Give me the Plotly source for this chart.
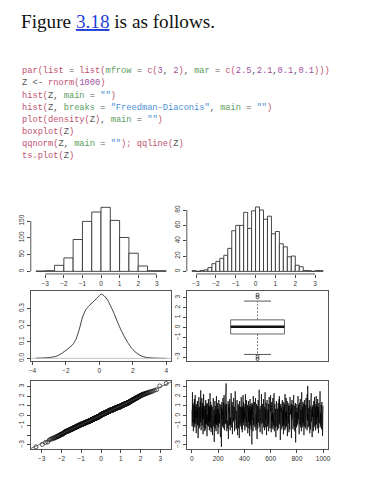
import numpy as np
import plotly.graph_objects as go
from statistics import NormalDist

# ---------------- data ----------------
hist1_breaks = [-3.5, -3.0, -2.5, -2.0, -1.5, -1.0, -0.5, 0.0, 0.5, 1.0, 1.5, 2.0, 2.5, 3.0, 3.5]
hist1_counts = [1, 2, 18, 40, 95, 149, 177, 191, 152, 101, 54, 16, 2, 2]
hist1_xticks = [-3, -2, -1, 0, 1, 2, 3]
hist1_yticks = [0, 50, 100, 150]

hist2_breaks = [-3.2, -3.0, -2.8, -2.6, -2.4, -2.2, -2.0, -1.8, -1.6, -1.4, -1.2, -1.0, -0.8,
                -0.6, -0.4, -0.2, 0.0, 0.2, 0.4, 0.6, 0.8, 1.0, 1.2, 1.4, 1.6, 1.8, 2.0, 2.2,
                2.4, 2.6, 2.8, 3.0, 3.2, 3.4]
hist2_counts = [1, 0, 1, 2, 5, 10, 13, 17, 21, 30, 53, 60, 60, 77, 56, 79, 84, 80, 68, 72,
                49, 52, 36, 32, 19, 20, 8, 6, 1, 1, 0, 1, 1]
hist2_xticks = [-3, -2, -1, 0, 1, 2, 3]
hist2_yticks = [0, 20, 40, 60, 80]

density_x = [-3.8, -3.5, -3.0, -2.7, -2.5, -2.2, -2.0, -1.8, -1.6, -1.4, -1.2, -1.0, -0.8, -0.6,
             -0.4, -0.2, 0.0, 0.1, 0.3, 0.5, 0.7, 0.9, 1.1, 1.3, 1.5, 1.7, 1.9, 2.1, 2.3, 2.5,
             2.8, 3.1, 3.5, 4.0]
density_y = [0.001, 0.002, 0.005, 0.010, 0.016, 0.034, 0.048, 0.064, 0.082, 0.115, 0.175, 0.25,
             0.295, 0.318, 0.337, 0.357, 0.378, 0.387, 0.375, 0.35, 0.31, 0.265, 0.215, 0.17,
             0.13, 0.095, 0.066, 0.043, 0.027, 0.015, 0.006, 0.003, 0.001, 0.0]
dens_xticks = [-4, -2, 0, 2, 4]
dens_yticks = [0.0, 0.1, 0.2, 0.3]
dens_yticklabels = ["0.0", "0.1", "0.2", "0.3"]

box_lower_whisker = -2.74
box_q1 = -0.67
box_median = 0.06
box_q3 = 0.76
box_upper_whisker = 2.66
box_outliers = [-3.2, -2.95, 3.05, 3.3]
sym_ticks = [-3, -2, -1, 0, 1, 2, 3]
sym_ticklabels = ["\u22123", "", "\u22121", "0", "1", "2", "3"]
qq_xticks = [-3, -2, -1, 0, 1, 2, 3]
ts_xticks = [0, 200, 400, 600, 800, 1000]

Z = [
0.6,-1.1,0.3,2.4,-0.2,0.9,-0.7,1.3,-0.1,0.4, -1.6,0.2,0.8,-0.4,1.1,-0.9,0.1,-0.3,1.7,-0.6,
0.5,-1.2,-0.1,0.7,2.1,-0.8,0.3,-1.4,0.2,-0.5, 1.0,-0.3,-1.8,0.4,0.6,-0.2,1.2,-0.7,0.1,-0.9,
-0.4,1.5,0.2,-1.0,-0.6,0.8,-2.3,0.3,1.1,-0.1, 0.7,-0.5,1.9,-0.2,0.4,-1.3,0.9,0.0,-0.8,0.3,
-1.1,0.6,-0.3,1.4,-0.7,0.2,2.6,-0.4,0.5,-1.5, 0.1,-0.9,1.2,-0.6,0.3,1.8,-0.2,-1.0,0.8,-0.4,
1.3,-0.1,-0.7,0.5,-1.9,0.2,0.9,-0.3,2.2,-0.8, -0.6,0.4,-1.2,0.0,1.0,-0.5,0.7,-1.6,0.3,0.6,
0.2,-1.4,0.9,-0.3,1.6,-0.8,0.4,1.1,-0.1,-0.6, -0.9,0.5,-0.2,1.3,-2.1,0.7,0.1,-0.5,0.8,-1.0,
1.2,-0.4,0.3,-0.7,0.6,1.7,-1.1,0.0,-0.3,0.9, -0.5,1.0,-1.5,0.2,-0.1,0.8,-0.6,2.3,0.4,-1.2,
0.3,-0.8,1.4,-0.2,0.7,-1.7,0.5,-0.4,1.1,0.1, -1.3,0.6,-0.1,0.9,-0.5,0.2,-2.0,1.2,-0.7,0.4,
0.8,-0.3,1.8,-0.9,0.1,-1.1,0.5,-0.2,0.6,-2.7, -0.2,1.1,-0.6,0.4,1.5,-0.8,0.0,-1.3,0.7,0.3,
1.0,-0.7,0.2,-1.6,0.9,-0.4,2.0,0.3,-0.9,-0.1, -0.4,0.6,-1.0,1.3,-0.2,0.8,-0.5,0.1,-1.9,0.5,
0.7,-1.2,0.4,-0.3,1.6,-0.7,0.2,1.0,-0.5,-0.1, -0.8,0.3,1.2,-1.4,0.5,-0.2,0.9,-2.2,0.6,0.0,
1.1,-0.6,-1.7,0.2,-3.2,0.8,-0.4,1.4,-0.9,0.3, -0.3,0.9,-1.1,0.5,0.1,-0.7,1.8,-0.2,0.6,-1.3,
0.4,-0.5,1.3,-0.9,2.1,-0.1,-0.6,0.7,-1.5,0.2, -1.0,0.6,-0.2,1.1,-0.8,0.3,1.9,-0.4,0.0,-0.7,
3.3,-0.9,0.5,-0.3,1.2,-1.6,0.2,0.8,-0.5,-1.1, 0.6,-0.2,-1.3,0.9,-0.6,1.5,0.1,-2.4,0.4,-0.1,
-0.7,1.2,0.3,-0.4,0.8,-1.0,-0.1,1.7,-0.8,0.5, 0.2,-1.5,0.7,-0.2,-0.9,0.4,1.1,-0.5,2.3,-0.3,
-0.6,0.8,-1.2,0.1,0.5,-0.3,1.4,-0.8,-1.9,0.6, 1.0,-0.4,0.2,-1.1,0.7,-0.1,-0.6,1.8,0.3,-0.9,
-0.2,1.3,-0.7,0.4,-1.6,0.9,0.0,-0.4,0.6,2.5, 0.3,-1.0,0.8,-0.5,1.1,-0.2,-1.4,0.5,-0.8,0.1,
-1.2,0.4,-0.1,1.6,-0.6,0.2,0.9,-2.0,0.7,-0.3, 0.5,-0.8,1.2,-0.3,0.1,-1.3,0.6,-0.1,1.0,-0.6,
-2.3,0.7,-0.4,1.5,0.2,-0.9,0.4,-0.2,1.1,-0.7, 0.9,-0.1,-1.1,0.3,-0.5,1.9,-0.8,0.6,0.0,-1.4,
-0.4,1.0,0.5,-1.7,0.8,-0.2,0.3,-0.6,1.3,2.1, 0.1,-0.7,1.4,-0.3,-1.0,0.6,-0.5,0.9,-0.1,0.4,
-0.9,0.2,0.7,-1.5,1.2,-0.4,0.0,2.2,-0.6,0.3, 0.6,-1.1,-0.2,0.8,-0.7,1.6,0.1,-0.3,-1.2,0.5,
-0.1,0.9,-0.5,1.1,0.3,-1.8,0.7,-0.4,0.2,-0.8, 1.5,-0.6,0.4,-0.2,-1.3,0.8,-0.9,0.1,1.0,-2.1,
-0.3,0.5,1.7,-0.7,0.2,-1.0,0.6,-0.1,-0.5,1.2, 0.4,-1.4,0.1,-0.6,0.9,-0.2,-2.95,1.3,-0.4,0.7,
-0.8,0.3,1.1,-0.5,0.6,-1.6,0.2,2.0,-0.1,-0.9, 0.5,-0.3,-1.0,0.8,-0.2,1.4,-0.7,0.0,0.9,-1.2,
-1.1,0.7,0.2,-0.4,1.8,-0.8,0.4,-1.5,0.1,0.6, 0.3,-0.9,1.2,-0.1,-0.6,0.5,-2.4,0.9,-0.3,1.0,
-0.5,0.8,-1.3,0.2,1.6,-0.2,0.6,-0.7,1.1,0.0, -0.4,1.3,2.66,-0.9,0.3,-1.1,0.7,-0.2,0.5,-1.7,
0.9,-0.6,0.1,-1.4,0.4,1.0,-0.3,0.7,-0.8,2.2, -0.2,0.5,-1.0,0.8,-0.5,-1.9,1.2,0.2,-0.6,0.3,
1.4,-0.1,0.6,-0.8,0.0,1.7,-1.2,0.4,-0.3,-0.7, -0.6,0.9,-0.2,-1.5,1.1,0.3,-0.9,2.4,0.1,-0.4,
0.2,-1.2,0.7,0.5,-0.3,1.3,-0.7,-0.1,-2.0,0.8, -0.9,0.4,1.6,-0.6,0.2,-1.1,0.9,-0.4,0.6,0.0,
0.7,-0.3,-0.8,1.2,-1.6,0.1,0.5,-0.2,1.9,-1.0, -0.1,1.0,-0.5,0.3,0.8,-1.3,-0.7,0.6,-0.2,2.1,
0.4,-0.8,1.1,-0.2,-1.7,0.7,0.0,-0.5,1.4,-0.9, -1.2,0.6,0.3,-0.6,1.0,-0.1,1.8,-1.4,0.2,-0.4,
0.8,-0.2,-1.0,0.5,-0.7,2.3,-0.3,0.9,-1.6,0.1, -0.5,1.2,0.4,-0.9,0.1,-1.2,0.7,-0.2,0.6,-2.2,
1.0,-0.6,0.2,1.5,-0.4,0.8,-1.1,0.3,-0.8,0.0, -0.3,0.7,-1.5,0.4,0.9,-0.5,0.1,1.3,-0.1,-1.0,
0.6,-1.3,0.2,-0.2,1.7,-0.7,2.0,-0.4,0.5,-0.9, -0.7,0.3,1.0,-2.5,0.6,-0.1,-0.6,1.2,0.4,-0.3,
0.2,-0.9,0.8,0.1,-1.4,1.1,-0.5,0.7,-0.2,1.6, -1.1,0.5,-0.3,0.9,0.0,-0.8,1.4,-1.9,0.3,0.6,
0.9,-0.4,0.2,-1.0,0.7,-0.6,1.2,0.1,-1.5,2.2, -0.2,1.1,-0.7,0.5,-1.3,0.3,-0.1,0.8,1.8,-0.5,
0.4,-1.1,0.6,-0.4,0.1,1.5,-0.9,-2.1,0.7,-0.2, -0.6,0.8,1.3,-0.3,-0.8,0.2,1.0,-0.5,0.0,-1.7,
1.1,-0.2,-0.6,0.9,0.3,-1.4,0.5,1.9,-0.7,0.4, -0.9,0.1,0.7,-1.2,-0.4,0.6,-0.1,1.2,-2.3,0.8,
0.3,-0.5,1.6,-0.2,0.9,-1.0,0.4,-0.6,0.2,1.1, -1.4,0.7,-0.3,0.5,-0.8,2.1,0.0,-1.1,0.6,-0.2,
0.5,-0.7,1.0,-1.6,0.2,0.8,-0.4,-0.1,1.3,-0.9, -2.74,0.4,-0.2,1.2,-0.6,0.3,0.9,-1.2,0.1,0.6,
0.8,-1.0,0.3,-0.5,1.5,-0.1,-0.8,0.6,2.0,-0.3, -0.4,1.1,-1.4,0.2,0.7,-0.6,0.0,-1.9,0.9,0.4,
1.3,-0.3,0.5,-0.9,0.1,1.7,-0.5,0.8,-1.2,-0.1, -0.7,0.6,-0.2,1.0,-1.6,0.3,2.4,-0.4,0.2,-0.8,
0.1,-1.2,0.9,-0.3,0.5,-0.7,1.4,-0.1,-1.0,0.7, -0.5,0.3,1.2,-2.0,0.8,-0.2,-0.6,1.6,0.4,-1.1,
0.6,-0.8,0.0,1.1,-0.4,0.9,-1.3,0.2,-0.1,1.8, -1.0,0.4,-0.6,0.7,-0.2,1.3,0.5,-1.5,2.2,-0.3,
0.2,-0.5,3.05,-0.9,0.6,-1.2,0.3,1.0,-0.7,0.1, -0.3,0.8,-1.1,0.4,1.6,-0.6,-0.1,0.9,-1.8,0.5,
1.0,-0.2,0.6,-1.4,0.3,-0.8,1.2,0.0,-0.5,2.3, -0.6,1.4,-0.3,0.7,-1.0,0.2,-2.2,0.5,0.9,-0.1,
0.4,-0.9,1.1,-0.4,0.8,-1.6,0.1,-0.2,1.5,-0.7, -1.2,0.5,0.2,-0.6,1.9,-0.3,0.7,-1.0,0.0,0.6,
0.9,-0.1,-1.5,0.3,-0.7,1.2,-0.4,2.0,-0.9,0.2, -0.2,0.7,-0.8,1.0,0.4,-1.3,0.6,-0.5,1.7,-0.1,
0.5,-1.1,0.3,-0.3,-1.8,0.9,-0.6,1.3,0.1,-0.4, -0.8,1.2,-0.1,0.6,-0.5,0.2,2.5,-1.2,0.4,-0.7,
0.3,-0.6,0.8,-1.0,1.1,-0.2,-0.4,0.7,-1.4,0.0, 1.4,-0.9,0.5,-0.1,0.2,-2.1,0.9,-0.3,0.6,1.0,
]
T = list(range(1, len(Z) + 1))

# ---------------- page geometry (pixels; page has an 8px body margin) ----------------
PAGE_W, PAGE_H, OFF = 386, 491, 8
W, H = PAGE_W - OFF, PAGE_H - OFF
def px_x(p): return (p - OFF) / W
def px_y(p): return 1 - (p - OFF) / H

col1 = [px_x(29), px_x(171)]
col2 = [px_x(186.7), px_x(329.7)]
row1 = [px_y(274.5), px_y(204.8)]
row2 = [px_y(361.7), px_y(292)]
row3 = [px_y(450.3), px_y(381.7)]

AX = "#444"
tickfont = dict(family="Liberation Sans, Arial, sans-serif", size=6.5, color="#333")

def axis(domain, rng, tickvals, ticktext=None, anchor=None, boxed=True, vertical=False):
    d = dict(domain=domain, range=rng, tickvals=tickvals, showgrid=False, zeroline=False,
             ticks="outside", ticklen=3, tickwidth=0.8, tickcolor=AX, tickfont=tickfont,
             showline=boxed, mirror=boxed, linecolor="#555", linewidth=0.9, fixedrange=True,
             anchor=anchor)
    if ticktext is not None:
        d["ticktext"] = ticktext
    if vertical:
        d["tickangle"] = -90
    return d

fig = go.Figure()

# ---- histogram 1
c1 = [(hist1_breaks[i] + hist1_breaks[i + 1]) / 2 for i in range(len(hist1_counts))]
w1 = [hist1_breaks[i + 1] - hist1_breaks[i] for i in range(len(hist1_counts))]
fig.add_trace(go.Bar(x=c1, y=hist1_counts, width=w1, marker=dict(color="white", line=dict(color="#333", width=0.9)),
                     xaxis="x", yaxis="y"))
# ---- histogram 2
c2 = [(hist2_breaks[i] + hist2_breaks[i + 1]) / 2 for i in range(len(hist2_counts))]
w2 = [hist2_breaks[i + 1] - hist2_breaks[i] for i in range(len(hist2_counts))]
fig.add_trace(go.Bar(x=c2, y=hist2_counts, width=w2, marker=dict(color="white", line=dict(color="#333", width=0.9)),
                     xaxis="x2", yaxis="y2"))
# ---- density
fig.add_trace(go.Scatter(x=density_x, y=density_y, mode="lines", line=dict(color="#222", width=0.9, shape="spline", smoothing=0.6),
                         xaxis="x3", yaxis="y3"))
# ---- boxplot
bc, bhw = 1.0, 0.19
fig.add_trace(go.Scatter(x=[bc, bc], y=[box_q3, box_upper_whisker], mode="lines",
                         line=dict(color="#555", width=0.8, dash="2px,1.5px"), xaxis="x4", yaxis="y4"))
fig.add_trace(go.Scatter(x=[bc, bc], y=[box_q1, box_lower_whisker], mode="lines",
                         line=dict(color="#555", width=0.8, dash="2px,1.5px"), xaxis="x4", yaxis="y4"))
for wv in (box_upper_whisker, box_lower_whisker):
    fig.add_trace(go.Scatter(x=[bc - bhw / 2, bc + bhw / 2], y=[wv, wv], mode="lines",
                             line=dict(color="#444", width=0.9), xaxis="x4", yaxis="y4"))
fig.add_trace(go.Scatter(x=[bc - bhw, bc + bhw, bc + bhw, bc - bhw, bc - bhw],
                         y=[box_q1, box_q1, box_q3, box_q3, box_q1], mode="lines",
                         fill="toself", fillcolor="white", line=dict(color="#555", width=0.9),
                         xaxis="x4", yaxis="y4"))
fig.add_trace(go.Scatter(x=[bc - bhw, bc + bhw], y=[box_median, box_median], mode="lines",
                         line=dict(color="#111", width=2.4), xaxis="x4", yaxis="y4"))
fig.add_trace(go.Scatter(x=[bc] * len(box_outliers), y=box_outliers, mode="markers",
                         marker=dict(symbol="circle-open", size=3, color="#222", line=dict(width=0.8)),
                         xaxis="x4", yaxis="y4"))
# ---- QQ plot
nd = NormalDist()
n = len(Z)
theo = [nd.inv_cdf((i + 0.5) / n) for i in range(n)]
samp = sorted(Z)
fig.add_trace(go.Scatter(x=theo, y=samp, mode="markers",
                         marker=dict(symbol="circle-open", size=4, color="#111", line=dict(width=0.7)),
                         xaxis="x5", yaxis="y5"))
yq1, yq3 = np.quantile(Z, [0.25, 0.75])
xq1, xq3 = nd.inv_cdf(0.25), nd.inv_cdf(0.75)
slope = (yq3 - yq1) / (xq3 - xq1)
icpt = yq1 - slope * xq1
qq_xr = [-3.55, 3.55]
fig.add_trace(go.Scatter(x=qq_xr, y=[icpt + slope * v for v in qq_xr], mode="lines",
                         line=dict(color="#444", width=0.8), xaxis="x5", yaxis="y5"))
# ---- time series
fig.add_trace(go.Scatter(x=T, y=Z, mode="lines", line=dict(color="#000", width=0.7),
                         xaxis="x6", yaxis="y6"))

fig.update_layout(
    width=W, height=H, margin=dict(l=0, r=0, t=0, b=0),
    paper_bgcolor="white", plot_bgcolor="white", showlegend=False,
    xaxis=axis(col1, [-3.78, 3.78], hist1_xticks, anchor="y", boxed=False),
    yaxis=axis(row1, [-7.7, 199.7], hist1_yticks, anchor="x", boxed=False, vertical=True),
    xaxis2=axis(col2, [-3.464, 3.664], hist2_xticks, anchor="y2", boxed=False),
    yaxis2=axis(row1, [-3.36, 87.36], hist2_yticks, anchor="x2", boxed=False, vertical=True),
    xaxis3=axis(col1, [-4.1, 4.3], dens_xticks, anchor="y3"),
    yaxis3=axis(row2, [-0.0155, 0.403], dens_yticks, dens_yticklabels, anchor="x3", vertical=True),
    xaxis4=axis(col2, [0.5, 1.5], [], anchor="y4"),
    yaxis4=axis(row2, [-3.40, 3.64], sym_ticks, sym_ticklabels, anchor="x4", vertical=True),
    xaxis5=axis(col1, qq_xr, qq_xticks, anchor="y5"),
    yaxis5=axis(row3, [-3.46, 3.56], sym_ticks, sym_ticklabels, anchor="x5", vertical=True),
    xaxis6=axis(col2, [-39, 1040], ts_xticks, anchor="y6"),
    yaxis6=axis(row3, [-3.46, 3.56], sym_ticks, sym_ticklabels, anchor="x6", vertical=True),
)
fig.layout.xaxis4.ticks = ""
fig.layout.xaxis4.showticklabels = False

# R-style axis lines for the two histograms (spanning first..last tick)
ln = dict(color="#444", width=0.9)
shapes = [
    dict(type="line", xref="x", yref="y domain", x0=hist1_xticks[0], x1=hist1_xticks[-1], y0=0, y1=0, line=ln),
    dict(type="line", xref="x domain", yref="y", x0=0, x1=0, y0=hist1_yticks[0], y1=hist1_yticks[-1], line=ln),
    dict(type="line", xref="x2", yref="y2 domain", x0=hist2_xticks[0], x1=hist2_xticks[-1], y0=0, y1=0, line=ln),
    dict(type="line", xref="x2 domain", yref="y2", x0=0, x1=0, y0=hist2_yticks[0], y1=hist2_yticks[-1], line=ln),
    dict(type="line", xref="x3 domain", yref="y3", x0=0, x1=1, y0=0, y1=0, line=dict(color="#bbb", width=0.9)),
]
fig.update_layout(shapes=shapes)

# ---------------- page text ----------------
FN, ARG, NUM, STR, PL = "#c0506e", "#5c9e5c", "#a050a0", "#4a8fd8", "#555"
def s(t, c):
    return f"<span style='color:{c}'>{t}</span>"

code_lines = [
    s("par(", FN) + s("list", FN) + s(" = ", PL) + s("list(", FN) + s("mfrow", ARG) + s(" = ", PL) + s("c(", FN)
    + s("3", NUM) + s(", ", PL) + s("2", NUM) + s(")", FN) + s(", ", PL) + s("mar", ARG) + s(" = ", PL) + s("c(", FN)
    + s("2.5", NUM) + s(",", PL) + s("2.1", NUM) + s(",", PL) + s("0.1", NUM) + s(",", PL) + s("0.1", NUM) + s(")))", FN),
    s("Z ", PL) + s("&lt;-", PL) + s(" rnorm(", FN) + s("1000", NUM) + s(")", FN),
    s("hist(", FN) + s("Z, ", PL) + s("main", ARG) + s(" = ", PL) + s('""', STR) + s(")", FN),
    s("hist(", FN) + s("Z, ", PL) + s("breaks", ARG) + s(" = ", PL) + s('"Freedman-Diaconis"', STR) + s(", ", PL)
    + s("main", ARG) + s(" = ", PL) + s('""', STR) + s(")", FN),
    s("plot(", FN) + s("density(", FN) + s("Z", PL) + s(")", FN) + s(", ", PL) + s("main", ARG) + s(" = ", PL)
    + s('""', STR) + s(")", FN),
    s("boxplot(", FN) + s("Z", PL) + s(")", FN),
    s("qqnorm(", FN) + s("Z, ", PL) + s("main", ARG) + s(" = ", PL) + s('""', STR) + s(");", FN) + s(" qqline(", FN)
    + s("Z", PL) + s(")", FN),
    s("ts.plot(", FN) + s("Z", PL) + s(")", FN),
]
annotations = [dict(
    text="Figure <span style='color:#1f3fd8;text-decoration:underline'>3.18</span> is as follows.",
    x=px_x(17), y=px_y(22), xref="paper", yref="paper", xanchor="left", yanchor="middle",
    showarrow=False, font=dict(family="Liberation Serif", size=19.2, color="#111"))]
for i, t in enumerate(code_lines):
    annotations.append(dict(text=t, x=px_x(18), y=px_y(71.5 + 12.1 * i), xref="paper", yref="paper",
                            xanchor="left", yanchor="middle", showarrow=False,
                            font=dict(family="Liberation Mono", size=8.7, color=PL)))
fig.update_layout(annotations=annotations)

fig.write_html("out.html")
